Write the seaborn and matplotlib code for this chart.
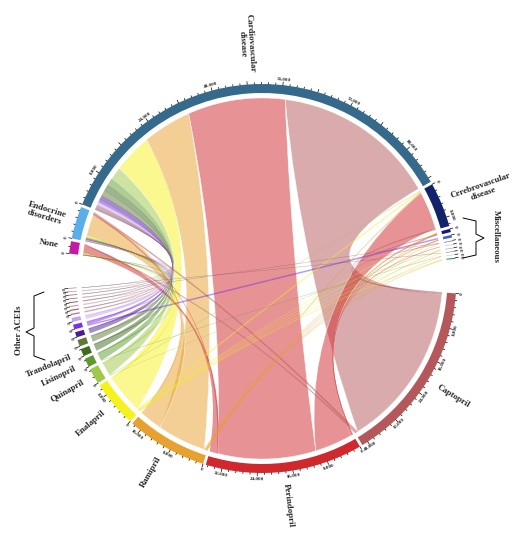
import numpy as np
import matplotlib
matplotlib.use("Agg")
import matplotlib.pyplot as plt
from matplotlib.path import Path
from matplotlib.patches import PathPatch, Wedge
import seaborn as sns

# ACE inhibitors, clockwise from Captopril
drugs = ["Captopril", "Perindopril", "Ramipril", "Enalapril", "Quinapril",
         "Lisinopril", "Trandolapril"] + ["Other ACEI %d" % i for i in range(1, 13)]
drug_colors = ["#B5585B", "#D0282C", "#E8A12E", "#F6F21E", "#9FC948", "#5E9A2E", "#3E6B1E",
               "#5F7A34", "#4A1F8C", "#7D2EE6", "#C8A2EC",
               "#B07A90", "#9A5A6E", "#C090A4", "#8A4A5E", "#A87088", "#7E5A6A", "#B48A9C", "#6E4A5A"]

# indications, clockwise from None
diseases = ["None", "Endocrine\ndisorders", "Cardiovascular\ndisease",
            "Cerebrovascular\ndisease"] + ["Misc %d" % i for i in range(1, 9)]
disease_colors = ["#C41AA6", "#5AAEEA", "#356A8C", "#13236B",
                  "#15157F", "#3F5FD0", "#9090B0", "#C8C8D8", "#A8A8B8", "#7878A0", "#B8B8C8", "#2E8B8B"]

# patients: rows = drugs, columns = indications
flows = [
    # None  Endo  Cardio Cerebro M1   M2   M3   M4   M5   M6  M7   M8
    [300,  400, 40100,  300, 200,   0, 100,   0,   0,   0,  0,   0],
    [1800, 300, 23800, 9300, 300, 100,   0, 100,   0,   0,  0,   0],
    [300, 5300, 12000,  200, 150, 100,  50,   0, 100,   0, 60, 100],
    [100,  250,  9500,  250, 100, 100,   0,  50,   0,  80,  0, 150],
    [80,   200,  3150,   60,   0,   0,   0,   0,  50,   0,  0,   0],
    [80,   100,  1780,    0,   0,   0,   0,   0,   0,   0, 40,   0],
    [50,   100,  1550,    0,   0,   0,   0,   0,   0,   0,  0,   0],
    [40,    80,  1380,    0,   0,   0,   0,   0,   0,   0,  0,   0],
    [0,    100,  1100,    0,   0,   0,   0,   0,   0,   0,  0,   0],
    [0,    150,   650,    0,   0, 300,   0,   0,   0,   0,  0,   0],
    [0,    150,   750,    0,   0,   0,   0,   0,   0,   0,  0,   0],
    [20,    50,   230,    0,   0,   0,   0,   0,   0,   0,  0,   0],
    [0,     50,   200,    0,   0,   0,   0,   0,   0,   0,  0,   0],
    [0,     30,   200,    0,   0,   0,   0,   0,   0,   0,  0,   0],
    [30,     0,   170,    0,   0,   0,   0,   0,   0,   0,  0,   0],
    [0,     40,   160,    0,   0,   0,   0,   0,   0,   0,  0,   0],
    [0,      0,   100,    0,   0,   0,  50,   0,   0,   0,  0,   0],
    [0,     20,   130,    0,   0,   0,   0,   0,   0,   0,  0,   0],
    [0,      0,    60,    0,   0,   0,   0,   0,   0,  40,  0,   0],
]

sns.set_theme(style="white")
plt.rcParams["font.family"] = ["Liberation Serif", "DejaVu Serif"]

flow = np.array(flows, float)
n_d, n_i = flow.shape
names = drugs + diseases
colors = drug_colors + disease_colors
vals = np.concatenate([flow.sum(1), flow.sum(0)])
n = len(vals)

cx, cy = 262, 271.5
R_OUT, R_IN, R_CH = 194.5, 185.5, 180.5
gap, big = 0.85, 10.2
k = (360 - 2 * big - gap * (n - 2)) / vals.sum()
big_after = {n_d - 1, n - 1}

start, end = [], []
a = -4.4
for i, v in enumerate(vals):
    start.append(a)
    a -= v * k
    end.append(a)
    a -= big if i in big_after else gap


def pt(ang, r):
    t = np.radians(ang)
    return cx + r * np.cos(t), cy + r * np.sin(t)


def arc(a1, a2, r):
    m = max(2, int(abs(a2 - a1) * 3) + 2)
    return [pt(x, r) for x in np.linspace(a1, a2, m)]


def ctrl(a1, a2):
    # control point of the bezier joining two roots on the circle
    d = (a2 - a1 + 180) % 360 - 180
    mid = a1 + d / 2
    c = np.cos(np.radians(abs(d) / 2))
    return pt(mid, R_CH * c * (1 - c))


# slot of each link inside its two sectors
links = {p: [] for p in range(n)}
for i in range(n_d):
    for j in range(n_i):
        if flow[i, j] > 0:
            links[i].append((n_d + j, i, j))
            links[n_d + j].append((i, i, j))
slot = {}
for p, lst in links.items():
    lst.sort(key=lambda t: -((start[p] - start[t[0]]) % 360))
    a = start[p]
    for q, i, j in lst:
        w = flow[i, j] * k
        slot[(p, i, j)] = (a, a - w)
        a -= w

fig = plt.figure(figsize=(5.15, 5.5), dpi=100)
ax = fig.add_axes([0, 0, 1, 1])
ax.set_xlim(0, 515)
ax.set_ylim(0, 550)
ax.axis("off")

# chords, biggest first
order = sorted([(flow[i, j], i, j) for i in range(n_d) for j in range(n_i) if flow[i, j] > 0],
               reverse=True)
for f, i, j in order:
    s1, s2 = slot[(i, i, j)]
    t1, t2 = slot[(n_d + j, i, j)]
    src = arc(s1, s2, R_CH)
    tgt = arc(t1, t2, R_CH)
    verts = (src + [ctrl(s2, t1), tgt[0]] + tgt[1:] + [ctrl(t2, s1), src[0], src[0]])
    codes = ([Path.MOVETO] + [Path.LINETO] * (len(src) - 1) + [Path.CURVE3] * 2
             + [Path.LINETO] * (len(tgt) - 1) + [Path.CURVE3] * 2 + [Path.CLOSEPOLY])
    fc = matplotlib.colors.to_rgba(drug_colors[i], 0.5)
    if f >= 2000:
        ec, lw = (1, 1, 1, 0.7), 0.4
    else:
        ec, lw = matplotlib.colors.to_rgba(drug_colors[i], 0.2), 0.25
    ax.add_patch(PathPatch(Path(verts, codes), facecolor=fc, edgecolor=ec, linewidth=lw))

# outer ring, ticks and tick labels
for p in range(n):
    ax.add_patch(Wedge((cx, cy), R_OUT, end[p], start[p], width=R_OUT - R_IN,
                       facecolor=colors[p], edgecolor="none"))
    v = 0
    while v <= vals[p]:
        ang = start[p] - v * k
        major = v % 8000 == 0
        x0, y0 = pt(ang, R_OUT)
        x1, y1 = pt(ang, R_OUT + (3.0 if major else 1.6))
        ax.plot([x0, x1], [y0, y1], color="black", lw=0.5)
        v += 1600
    first, step = (8000, 16000) if names[p].startswith("Cardio") else (8000, 8000)
    labs = [0] + list(range(first, int(vals[p]) + 1, step))
    for v in labs:
        ang = start[p] - v * k
        x, y = pt(ang, R_OUT + 3.5)
        rot = ang - 90
        if np.sin(np.radians(ang)) < 0:
            rot += 180
            va = "top"
        else:
            va = "bottom"
        ax.text(x, y, "{:,}".format(v), fontsize=3.6, rotation=rot, ha="center", va=va,
                rotation_mode="anchor", fontweight="bold")

# sector names
for p in range(n):
    if names[p].startswith(("Other ACEI", "Misc")):
        continue
    mid = (start[p] + end[p]) / 2
    mid = (mid + 180) % 360 - 180
    x, y = pt(mid, 206)
    if -90 <= mid <= 90:
        rot, ha = mid, "left"
    else:
        rot, ha = mid - 180 if mid > 0 else mid + 180, "right"
    if names[p].startswith("Cerebro"):
        rot -= 3
    ax.text(x, y, names[p], fontsize=6.4, fontweight="bold", rotation=rot, ha=ha, va="center",
            rotation_mode="anchor", multialignment="center", linespacing=1.0)

# brackets for grouped sectors
brace_l = [(44, 292), (34, 296), (34, 328), (26, 332), (34, 336), (34, 356), (45, 360)]
brace_r = [(463, 218), (476, 221), (476, 234), (484, 238), (476, 242), (476, 255), (463, 258)]
for br in (brace_l, brace_r):
    xs, ys = zip(*br)
    ax.plot(xs, [550 - y for y in ys], color="black", lw=0.7)
ax.text(19, 550 - 330, "Other ACEIs", fontsize=6.4, fontweight="bold", rotation=90,
        ha="center", va="center")
ax.text(496, 550 - 236, "Miscellaneous", fontsize=6.4, fontweight="bold", rotation=-90,
        ha="center", va="center")

fig.savefig("out.png", dpi=100)
